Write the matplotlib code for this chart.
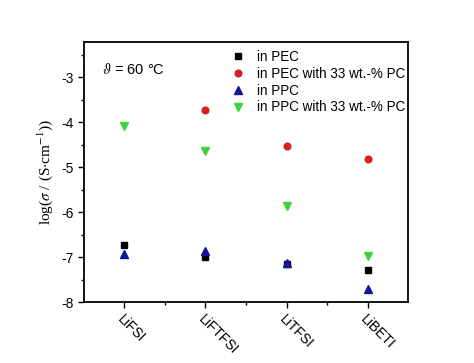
import matplotlib
matplotlib.use("Agg")
import matplotlib.pyplot as plt
from matplotlib.ticker import MultipleLocator

# Leitsalze und Leitfähigkeiten bei 60 °C
salze = ["LiFSI", "LiFTFSI", "LiTFSI", "LiBETI"]
pec = [-6.73, -7.00, -7.16, -7.29]
pec_pc = [None, -3.73, -4.53, -4.82]
ppc = [-6.93, -6.87, -7.14, -7.71]
ppc_pc = [-4.09, -4.64, -5.87, -6.98]

plt.rcParams["font.family"] = ["Liberation Sans", "DejaVu Sans"]
plt.rcParams["mathtext.fontset"] = "stix"
plt.rcParams["axes.unicode_minus"] = False

fig = plt.figure(figsize=(4.74, 3.63), dpi=100)
ax = fig.add_axes([0.177, 0.168, 0.684, 0.716])

x = list(range(1, len(salze) + 1))


def zeichne(werte, marker, farbe, name, ms):
    xs = [xi for xi, w in zip(x, werte) if w is not None]
    ys = [w for w in werte if w is not None]
    ax.plot(xs, ys, linestyle="none", marker=marker, color=farbe,
            markersize=ms, label=name)


zeichne(pec, "s", "black", "in PEC", 4.5)
zeichne(pec_pc, "o", "#d81e1e", "in PEC with 33 wt.-% PC", 4.8)
zeichne(ppc, "^", "#141496", "in PPC", 5.2)
zeichne(ppc_pc, "v", "#3ed23e", "in PPC with 33 wt.-% PC", 5.7)

ax.set_xlim(0.5, 4.5)
ax.set_ylim(-8, -2.22)
ax.set_xticks(x)
ax.set_xticklabels(salze, rotation=-45, rotation_mode="anchor",
                   ha="left", va="top", fontsize=10)
ax.set_xticks([1.5, 2.5, 3.5], minor=True)
ax.yaxis.set_major_locator(MultipleLocator(1))
ax.yaxis.set_minor_locator(MultipleLocator(0.5))
ax.tick_params(axis="both", which="both", direction="out", labelsize=10)
ax.tick_params(which="major", length=4, width=1)
ax.tick_params(which="minor", length=2.5, width=1)
for s in ax.spines.values():
    s.set_linewidth(1.3)

ax.set_ylabel(r"log($\sigma$ / (S$\cdot$cm$^{-1}$))",
              family="Liberation Serif", fontsize=11)
ax.yaxis.set_label_coords(-0.088, 0.5)

ax.text(0.055, 0.925, r"$\vartheta$ = 60 °C", transform=ax.transAxes,
        fontsize=10.5, va="top")

ax.legend(loc="upper right", frameon=False, fontsize=9.75, handlelength=1.5,
          handletextpad=0.6, labelspacing=0.2, borderaxespad=0.2,
          bbox_to_anchor=(1.015, 1.0))

fig.savefig("out.png", dpi=100)
